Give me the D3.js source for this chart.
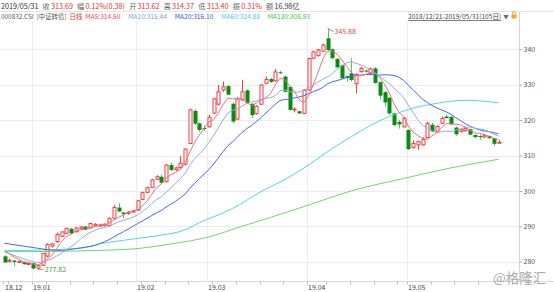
<!DOCTYPE html>
<html><head><meta charset="utf-8">
<script src="https://cdn.jsdelivr.net/npm/d3@7/dist/d3.min.js"></script>
<style>
body{margin:0;background:#fff;}
svg{display:block;font-family:"Noto Sans CJK SC","Noto Sans",sans-serif;}
</style>
</head><body>
<svg id="c" width="554" height="292"></svg>
<script>
// ---------- data ----------
const dates = [
"2018-12-21","2018-12-24","2018-12-25","2018-12-26","2018-12-27","2018-12-28",
"2019-01-02","2019-01-03","2019-01-04","2019-01-07","2019-01-08","2019-01-09","2019-01-10","2019-01-11","2019-01-14","2019-01-15","2019-01-16","2019-01-17","2019-01-18","2019-01-21","2019-01-22","2019-01-23","2019-01-24","2019-01-25","2019-01-28","2019-01-29","2019-01-30","2019-01-31",
"2019-02-01","2019-02-11","2019-02-12","2019-02-13","2019-02-14","2019-02-15","2019-02-18","2019-02-19","2019-02-20","2019-02-21","2019-02-22","2019-02-25","2019-02-26","2019-02-27","2019-02-28",
"2019-03-01","2019-03-04","2019-03-05","2019-03-06","2019-03-07","2019-03-08","2019-03-11","2019-03-12","2019-03-13","2019-03-14","2019-03-15","2019-03-18","2019-03-19","2019-03-20","2019-03-21","2019-03-22","2019-03-25","2019-03-26","2019-03-27","2019-03-28","2019-03-29",
"2019-04-01","2019-04-02","2019-04-03","2019-04-04","2019-04-08","2019-04-09","2019-04-10","2019-04-11","2019-04-12","2019-04-15","2019-04-16","2019-04-17","2019-04-18","2019-04-19","2019-04-22","2019-04-23","2019-04-24","2019-04-25","2019-04-26","2019-04-29","2019-04-30",
"2019-05-06","2019-05-07","2019-05-08","2019-05-09","2019-05-10","2019-05-13","2019-05-14","2019-05-15","2019-05-16","2019-05-17","2019-05-20","2019-05-21","2019-05-22","2019-05-23","2019-05-24","2019-05-27","2019-05-28","2019-05-29","2019-05-30","2019-05-31"];

const open = [281.5,280.1,280.3,279.8,279.9,279.2,279.6,278.2,279.0,281.6,284.4,285.7,287.2,288.0,289.3,288.5,289.3,289.9,289.6,290.1,290.1,290.2,290.2,292.3,295.3,293.9,293.6,294.1,
294.6,297.6,299.6,301.0,303.3,304.0,302.6,307.3,306.0,306.6,307.5,313.4,322.6,319.1,317.8,
318.1,322.0,324.5,328.5,329.6,324.6,320.3,325.7,328.4,324.6,321.9,324.5,330.4,331.6,331.1,333.5,332.3,329.4,322.9,322.5,321.9,
328.5,337.5,338.2,339.5,343.1,340.0,337.3,335.5,332.4,333.2,330.3,333.7,334.0,333.3,334.6,330.7,327.9,326.3,321.9,319.5,318.1,
317.2,312.3,313.0,313.0,315.1,318.7,316.8,319.1,321.0,320.9,317.9,316.8,317.0,317.4,315.8,315.5,315.2,315.5,314.9,313.62];
const high = [281.8,280.8,280.5,280.3,280.1,279.7,279.8,279.2,282.5,285.2,285.3,288.2,288.6,289.6,289.5,289.8,290.1,290.2,291.0,290.9,290.7,290.8,292.5,296.0,296.5,294.1,294.3,294.6,
297.5,299.8,301.2,303.4,304.4,304.6,307.6,308.0,306.8,309.8,312.0,323.2,323.0,319.3,318.4,
321.5,326.3,329.9,330.9,330.0,325.0,326.5,331.4,328.7,324.8,324.2,330.1,332.3,331.9,334.4,333.9,332.6,329.6,323.6,322.7,328.8,
337.6,339.6,340.1,341.6,345.88,340.3,337.5,335.7,332.6,337.5,333.2,335.0,334.3,334.8,335.0,330.9,328.1,326.5,322.1,320.0,320.9,
317.4,314.3,314.2,315.2,319.5,319.2,318.5,321.0,321.5,321.2,318.2,317.7,318.0,317.6,316.0,315.9,316.0,315.7,315.0,314.37];
const low = [279.6,279.8,278.8,279.6,279.1,279.0,277.9,277.82,278.8,281.3,284.0,285.3,286.9,287.8,287.7,288.2,289.0,288.9,289.4,289.8,289.9,290.0,290.0,292.1,294.0,292.3,293.3,293.8,
294.3,297.4,299.3,300.8,303.0,302.0,302.4,305.6,305.7,306.3,307.2,313.2,318.6,316.7,316.9,
317.9,321.8,324.2,328.0,327.0,319.2,320.0,325.4,324.5,320.6,321.5,324.3,330.1,330.5,330.9,333.0,327.8,322.6,322.2,321.7,321.7,
328.3,337.2,338.0,339.3,339.5,337.2,334.7,331.6,330.8,331.0,327.6,333.4,333.4,332.6,330.2,325.9,323.8,321.5,318.3,317.6,317.9,
311.5,311.9,311.6,312.8,314.9,316.6,316.5,318.9,320.4,318.6,315.6,316.5,316.8,315.7,314.9,314.4,315.0,314.7,312.6,313.40];
const close = [279.8,280.4,279.9,280.1,279.3,279.5,278.1,278.9,282.3,284.9,285.0,287.7,288.4,289.4,288.0,289.5,289.8,289.1,290.8,290.5,290.4,290.6,292.2,295.3,294.2,293.5,294.0,294.3,
297.2,299.5,300.9,303.1,304.0,302.3,307.3,305.9,306.5,307.8,311.8,322.9,319.0,317.2,317.5,
320.8,326.0,328.0,329.4,327.2,319.6,326.0,328.0,324.8,321.4,323.9,329.9,331.5,330.8,333.6,333.3,328.0,322.9,323.1,321.9,328.5,
337.4,339.3,339.8,341.2,339.8,337.5,334.9,331.8,331.9,331.3,332.9,334.6,333.7,334.5,330.5,326.9,325.0,321.9,318.6,318.8,320.5,
311.8,313.4,313.9,314.5,319.0,316.8,318.2,320.5,320.6,318.8,316.0,317.3,317.6,315.9,315.2,315.2,315.6,314.9,313.31,313.69];

// MA values at the left edge (need data before the window)
const ma5Head = [283.0,282.2,281.4,280.7];
const ma10Head = [282.8,282.3,281.8,281.3,280.8,280.4,280.0,279.8,279.9];
const ma20Head = [285.2,285.0,284.8,284.6,284.4,284.2,284.0,283.8,283.6,283.4,283.3,283.2,283.2,283.3,283.5,283.7,283.9,284.1,284.3];
// MA60 / MA120 at these candle positions
const ma60At   = [0,10,16,20,27,33,38,41,48,54,58,64,69,73,77,81,85,90,97,104];
const ma60Vals = [283.1,283.4,283.8,285.0,286.4,287.5,289.0,291.0,295.0,299.8,302.5,307.3,312.0,315.3,318.5,321.0,323.0,324.5,325.6,324.88];
const ma120At   = [0,10,20,27,35,43,50,56,64,73,84,94,104];
const ma120Vals = [282.8,282.9,283.2,283.6,285.0,287.0,290.0,292.5,296.0,300.0,303.5,306.5,308.93];

const yTicks = [280,290,300,310,320,330,340];
const monthLabels = ["18.12","19.01","19.02","19.03","19.04","19.05"];
const header1 = [["2019/05/31","#333"],["收","#666"],["313.69","#e8312f"],["幅","#666"],["0.12%(0.38)","#e8312f"],["开","#666"],["313.62","#e8312f"],["高","#666"],["314.37","#e8312f"],["低","#666"],["313.40","#e8312f"],["振","#666"],["0.31%","#e8312f"],["额","#666"],["16.98亿","#333"]];
const header2 = [["000832.CSI","#555"],["[中证转债]","#555"],["日线","#e8312f"]];
const maNames = ["MA5","MA10","MA20","MA60","MA120"];
const maLast = ["314.50","315.44","316.10","324.88","308.93"];
const maColors = ["#f0717c","#8fb1da","#4868ee","#52d6e6","#6fd56f"];
const maTextColors = ["#e8414b","#7d9fce","#3552e8","#3fcde0","#3dbf3d"];
const rangeText = "2018/12/21-2019/05/31(105日)";
const watermark = "@格隆汇";

// ---------- drawing ----------
const svg = d3.select("#c");
const W = 554, H = 292, axisX = 519.5, axisY = 281.5, plotTop = 21;
const x = d3.scalePoint().domain(dates).range([4.5, 498.5]);
const y = d3.scaleLinear().domain([280, 340]).range([261.7, 49.3]);

// header separator
svg.append("line").attr("x1",0).attr("x2",W).attr("y1",11.5).attr("y2",11.5).attr("stroke","#e4e4e4");

// horizontal grid
svg.append("g").selectAll("line").data(yTicks).join("line")
  .attr("x1",0).attr("x2",axisX).attr("y1",d=>Math.round(y(d))+0.5).attr("y2",d=>Math.round(y(d))+0.5)
  .attr("stroke","#ececec");

// month boundaries
const parse = d3.timeParse("%Y-%m-%d");
const monthStarts = dates.filter((d,i)=> i===0 || d.slice(0,7)!==dates[i-1].slice(0,7));
svg.append("g").selectAll("line").data(monthStarts.slice(1)).join("line")
  .attr("x1",d=>Math.round(x(d)-1.5)+0.5).attr("x2",d=>Math.round(x(d)-1.5)+0.5)
  .attr("y1",plotTop).attr("y2",axisY).attr("stroke","#ececec");

// weekly ticks (first trading day of each week)
const weekStarts = dates.filter((d,i)=> i===0 || d3.timeMonday.floor(parse(d)).getTime()!==d3.timeMonday.floor(parse(dates[i-1])).getTime());
svg.append("g").selectAll("line").data(weekStarts).join("line")
  .attr("x1",d=>Math.round(x(d)-1.5)+0.5).attr("x2",d=>Math.round(x(d)-1.5)+0.5)
  .attr("y1",axisY).attr("y2",axisY+3).attr("stroke","#bbb");

// axes lines
svg.append("line").attr("x1",axisX).attr("x2",axisX).attr("y1",11.5).attr("y2",axisY).attr("stroke","#d6d6d6");
svg.append("line").attr("x1",0).attr("x2",W).attr("y1",axisY).attr("y2",axisY).attr("stroke","#d6d6d6");

// right axis via d3.axisRight
const yAxis = svg.append("g").attr("transform",`translate(${axisX},0)`)
  .call(d3.axisRight(y).tickValues(yTicks).tickSize(3).tickPadding(1).tickFormat(d3.format("d")));
yAxis.select(".domain").remove();
yAxis.selectAll(".tick line").attr("stroke","#aaa");
yAxis.selectAll(".tick text").attr("fill","#555").style("font-size","7px").style("font-family","'Noto Sans CJK SC',sans-serif");

// month labels
svg.append("g").selectAll("text").data(monthStarts).join("text")
  .attr("x",(d,i)=> i===0 ? 5 : Math.round(x(d)-1.5)+1)
  .attr("y",290).attr("fill","#444").style("font-size","7px")
  .text((d,i)=>monthLabels[i]);

// moving averages
function movingAvg(vals, n, head){
  return vals.map((v,i)=> i < n-1 ? head[i] : d3.mean(vals.slice(i-n+1,i+1)));
}
const ma5 = movingAvg(close,5,ma5Head);
const ma10 = movingAvg(close,10,ma10Head);
const ma20 = movingAvg(close,20,ma20Head);
const line = d3.line().x(d=>d[0]).y(d=>y(d[1]));
const smooth = d3.line().x(d=>d[0]).y(d=>y(d[1])).curve(d3.curveMonotoneX);
const series = [
  {pts: ma120At.map((k,j)=>[x(dates[k]),ma120Vals[j]]), c:maColors[4], gen:smooth},
  {pts: ma60At.map((k,j)=>[x(dates[k]),ma60Vals[j]]), c:maColors[3], gen:smooth},
  {pts: ma20.map((v,i)=>[x(dates[i]),v]), c:maColors[2], gen:line},
  {pts: ma10.map((v,i)=>[x(dates[i]),v]), c:maColors[1], gen:line},
  {pts: ma5.map((v,i)=>[x(dates[i]),v]), c:maColors[0], gen:line},
];

// candles
const UP="#f23d3d", DOWN="#0b8a12", DOWNW="#5cc25c";
const cg = svg.append("g");
dates.forEach((d,i)=>{
  const cx = Math.round(x(d)) + 0.5;
  const up = close[i] >= open[i];
  const top = y(Math.max(open[i],close[i])), bot = y(Math.min(open[i],close[i]));
  cg.append("line").attr("x1",cx).attr("x2",cx).attr("y1",y(high[i])).attr("y2",y(low[i]))
    .attr("stroke", up?UP:DOWNW).attr("stroke-width",1);
  if(up){
    cg.append("rect").attr("x",cx-1.5).attr("y",top).attr("width",3).attr("height",Math.max(bot-top,0.8))
      .attr("fill","#fff").attr("stroke",UP).attr("stroke-width",1);
  } else {
    cg.append("rect").attr("x",cx-2).attr("y",top).attr("width",4).attr("height",Math.max(bot-top,1))
      .attr("fill",DOWN);
  }
});

svg.append("g").selectAll("path").data(series).join("path")
  .attr("d",s=>s.gen(s.pts)).attr("fill","none").attr("stroke",s=>s.c).attr("stroke-width",1);

// high / low annotations
const iHi = d3.maxIndex(high), iLo = d3.minIndex(low);
const hx = x(dates[iHi]), hy = y(high[iHi]);
svg.append("line").attr("x1",hx).attr("y1",hy).attr("x2",hx+6).attr("y2",hy+3).attr("stroke","#9a9a9a");
svg.append("text").attr("x",hx+7).attr("y",hy+5.5).attr("fill","#e04545").style("font-size","7px").text(d3.format(".2f")(high[iHi]));
const lx = x(dates[iLo]), ly = y(low[iLo]);
svg.append("line").attr("x1",lx).attr("y1",ly).attr("x2",lx+6).attr("y2",ly).attr("stroke","#9a9a9a");
svg.append("text").attr("x",lx+7).attr("y",ly+2.5).attr("fill","#3e9e3e").style("font-size","7px").text(d3.format(".2f")(low[iLo]));

// header line 1: laid out left to right with measured widths
{
  let cx = 1;
  const g = svg.append("g");
  header1.forEach((d,i)=>{
    const t = g.append("text").attr("x",cx).attr("y",9).attr("fill",d[1]).style("font-size","7.2px").text(d[0]);
    const w = t.node().getComputedTextLength();
    const isLabel = (i%2===1);
    cx += w + (i===0 ? 4 : (isLabel ? 1.2 : 4.2));
  });
}
// header line 2
{
  let cx = 1;
  const g = svg.append("g");
  header2.forEach(d=>{
    const t = g.append("text").attr("x",cx).attr("y",19).attr("fill",d[1]).style("font-size","6.4px").text(d[0]);
    cx += t.node().getComputedTextLength() + 3;
  });
  const labels = maNames.map((n,i)=>n+":"+maLast[i]);
  const ts = labels.map((s,i)=> g.append("text").attr("y",19).attr("fill",maTextColors[i]).style("font-size","6.6px").text(s));
  const ws = ts.map(t=>t.node().getComputedTextLength());
  const gap = Math.max(3, (310 - cx - d3.sum(ws)) / 4);
  ts.forEach((t,i)=>{ t.attr("x",cx); cx += ws[i] + gap; });
}

// range text
const rt = svg.append("text").attr("x",408).attr("y",19).attr("fill","#444").style("font-size","6.6px")
  .attr("text-decoration","underline").text(rangeText);
const rEnd = 408 + rt.node().getComputedTextLength();
svg.append("text").attr("x",rEnd+2).attr("y",19).attr("fill","#666").style("font-size","5.5px").text("▼");
svg.append("rect").attr("x",511.5).attr("y",14.5).attr("width",5).attr("height",4).attr("fill","#f4a622");
svg.append("path").attr("d","M512.5,14.5 v-1.5 a1.5,1.5 0 0 1 3,0 v1.5").attr("fill","none").attr("stroke","#f4a622");

// watermark
svg.append("text").attr("x",493).attr("y",283).attr("fill","#a8a8a8").style("font-size","13.5px").text(watermark);
</script>
</body></html>
